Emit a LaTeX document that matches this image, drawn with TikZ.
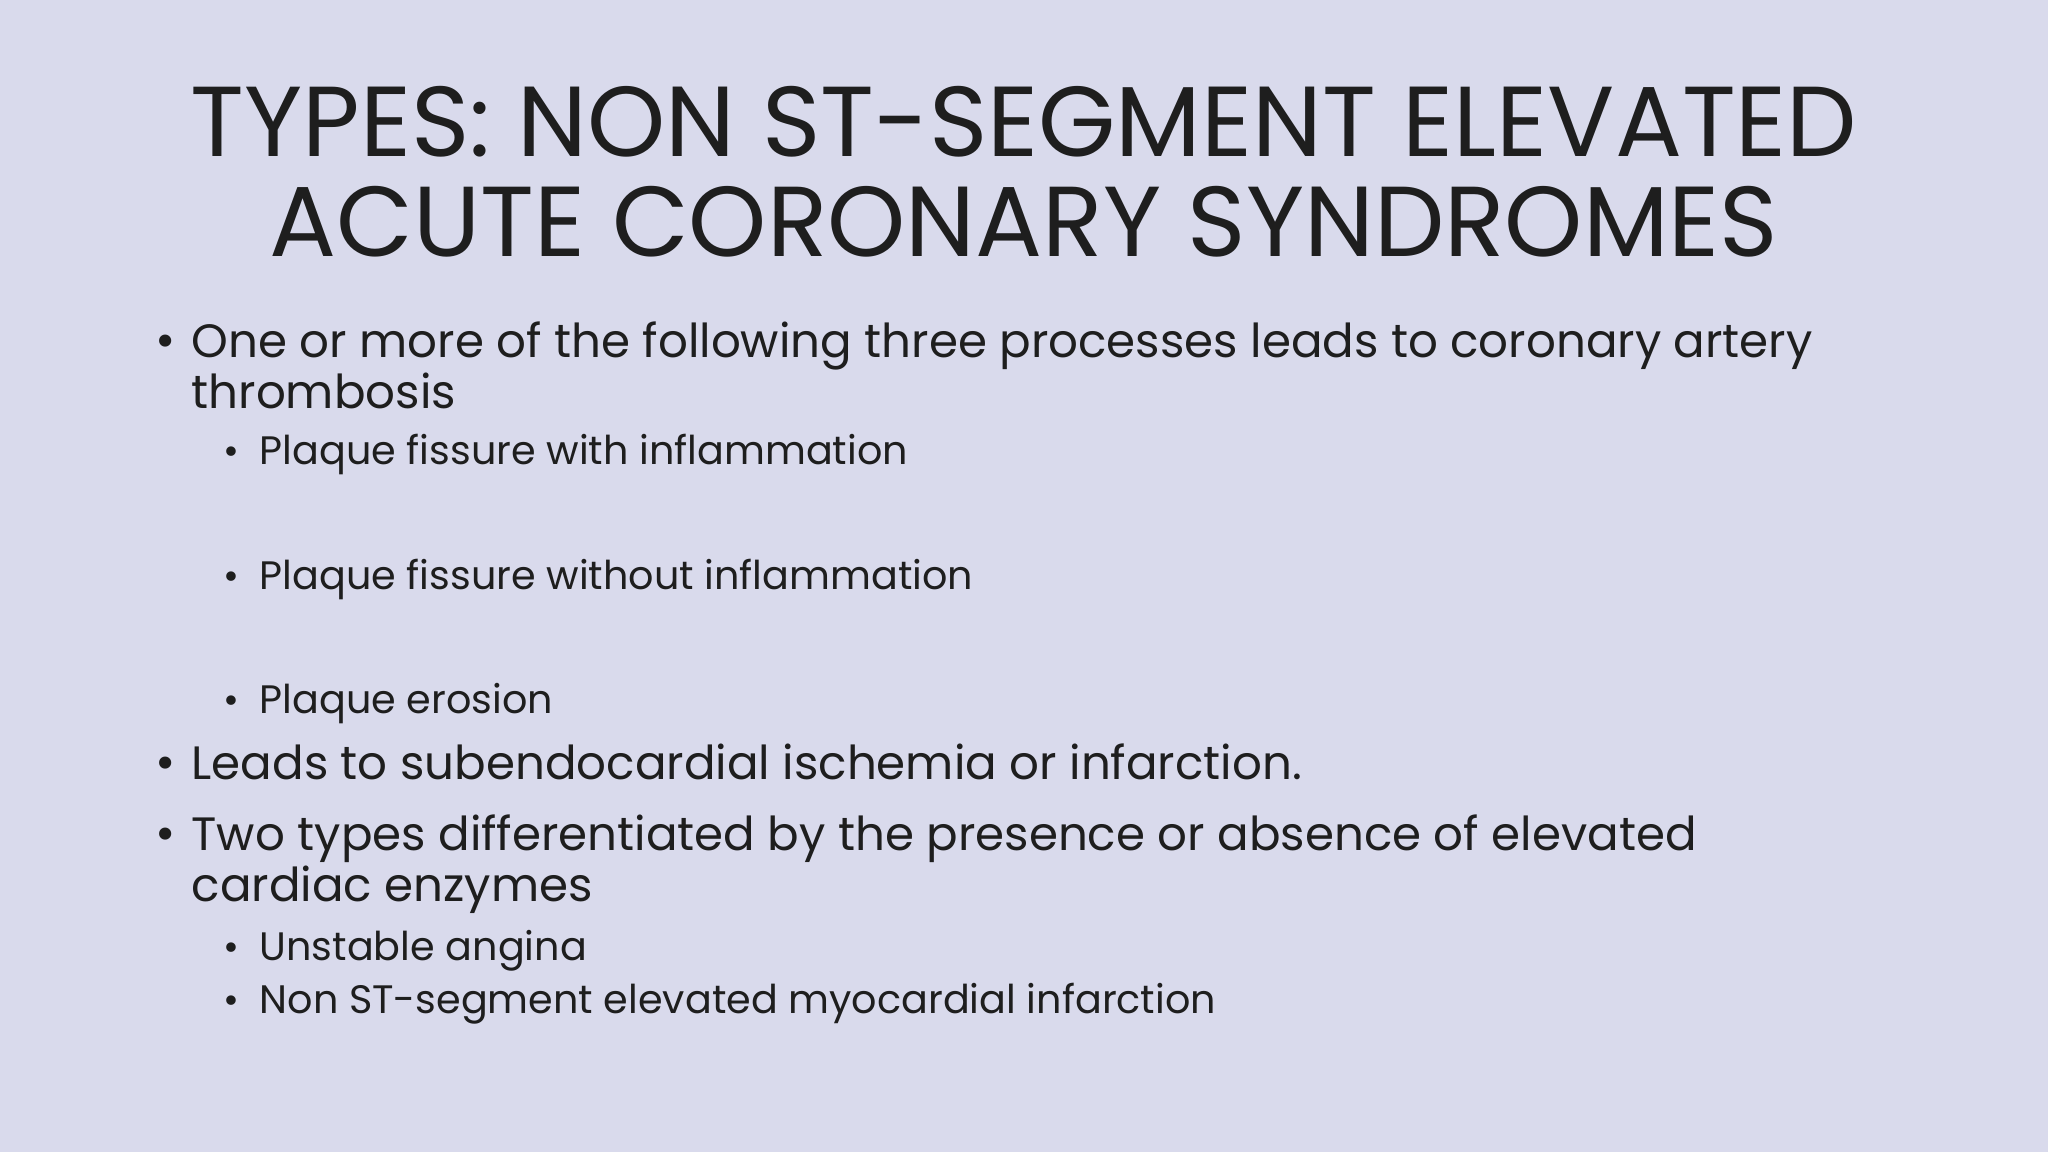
\documentclass[tikz,border=0pt]{standalone}
\usepackage{fontspec}
\setmainfont{Poppins}
\definecolor{bg}{HTML}{D9DAEC}
\definecolor{ink}{HTML}{1E1E1E}
\begin{document}
\begin{tikzpicture}[x=1cm,y=-1cm,
  every node/.style={inner sep=0pt,text=ink},
  ttl/.style={anchor=base,font=\fontsize{28.3}{32}\selectfont},
  lone/.style={anchor=base west,font=\fontsize{13.3}{16}\selectfont},
  ltwo/.style={anchor=base west,font=\fontsize{11.3}{14}\selectfont},
  bul/.style={anchor=base,font=\fontsize{14}{16}\selectfont},
  bulb/.style={anchor=base,font=\fontsize{11}{13}\selectfont}]
\fill[bg] (0,0) rectangle (20.48,11.52);
\useasboundingbox (0,0) rectangle (20.48,11.52);
\node[ttl] (t1) at (10.24,1.57) {TYPES: NON ST-SEGMENT ELEVATED};
\node[ttl] (t2) at (10.24,2.57) {ACUTE CORONARY SYNDROMES};
\node[bul] (b1) at (1.66,3.58) {•};
\node[lone] (a1) at (1.91,3.58) {One or more of the following three processes leads to coronary artery};
\node[lone] (a1b) at (1.91,4.09) {thrombosis};
\node[bulb] (c1) at (2.31,4.65) {•};
\node[ltwo] (s1) at (2.59,4.65) {Plaque fissure with inflammation};
\node[bulb] (c2) at (2.31,5.89) {•};
\node[ltwo] (s2) at (2.59,5.89) {Plaque fissure without inflammation};
\node[bulb] (c3) at (2.31,7.13) {•};
\node[ltwo] (s3) at (2.59,7.13) {Plaque erosion};
\node[bul] (b2) at (1.66,7.80) {•};
\node[lone] (a2) at (1.91,7.80) {Leads to subendocardial ischemia or infarction.};
\node[bul] (b3) at (1.66,8.50) {•};
\node[lone] (a3) at (1.91,8.50) {Two types differentiated by the presence or absence of elevated};
\node[lone] (a3b) at (1.91,9.02) {cardiac enzymes};
\node[bulb] (c4) at (2.31,9.60) {•};
\node[ltwo] (s4) at (2.59,9.60) {Unstable angina};
\node[bulb] (c5) at (2.31,10.13) {•};
\node[ltwo] (s5) at (2.59,10.13) {Non ST-segment elevated myocardial infarction};
\end{tikzpicture}
\end{document}
